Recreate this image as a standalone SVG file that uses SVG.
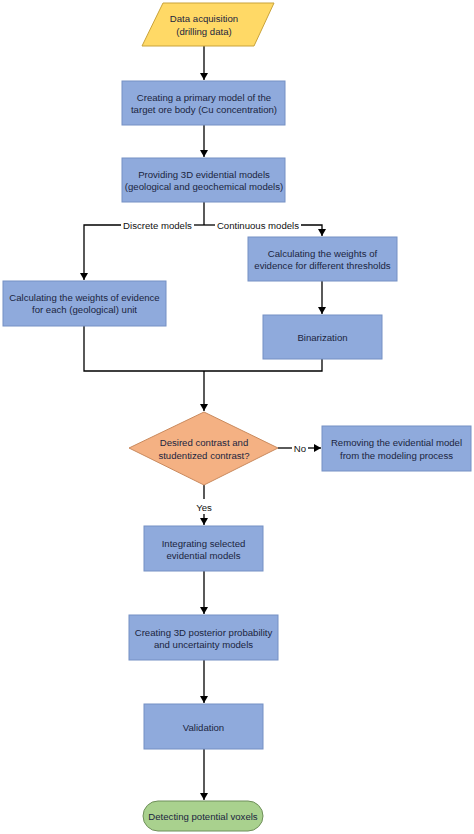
<svg xmlns="http://www.w3.org/2000/svg" width="474" height="834" viewBox="0 0 474 834">
<style>
.box{fill:#8FAADC;stroke:#7590C4;stroke-width:1}
.t{font-family:"Liberation Sans",Arial,sans-serif;font-size:9.6px;fill:#1B2540;text-anchor:middle;dominant-baseline:central}
.lbl{font-family:"Liberation Sans",Arial,sans-serif;font-size:9.6px;fill:#111;text-anchor:middle;dominant-baseline:central}
.ln{fill:none;stroke:#000;stroke-width:1.3}
</style>
<defs>
<marker id="ah" markerWidth="8" markerHeight="8" refX="7" refY="4" orient="auto" markerUnits="userSpaceOnUse">
<path d="M0,0 L7,4 L0,8 Z" fill="#000"/>
</marker>
</defs>
<rect width="474" height="834" fill="#fff"/>
<g id="connectors">
<path class="ln" d="M204,46 V80" marker-end="url(#ah)"/>
<path class="ln" d="M204,125 V157" marker-end="url(#ah)"/>
<path class="ln" d="M204,202 V225"/>
<path class="ln" d="M204,225 H194"/>
<path class="ln" d="M121,225 H84 V280" marker-end="url(#ah)"/>
<path class="ln" d="M204,225 H215"/>
<path class="ln" d="M301,225 H322 V236" marker-end="url(#ah)"/>
<path class="ln" d="M322,281 V314" marker-end="url(#ah)"/>
<path class="ln" d="M84,326 V371 H322 V359"/>
<path class="ln" d="M204,371 V411" marker-end="url(#ah)"/>
<path class="ln" d="M278,448 H292"/>
<path class="ln" d="M308,448 H321" marker-end="url(#ah)"/>
<path class="ln" d="M204,485 V499"/>
<path class="ln" d="M204,514 V525" marker-end="url(#ah)"/>
<path class="ln" d="M204,571 V614" marker-end="url(#ah)"/>
<path class="ln" d="M204,660 V703" marker-end="url(#ah)"/>
<path class="ln" d="M204,749 V800" marker-end="url(#ah)"/>
<text class="lbl" x="157.5" y="225">Discrete models</text>
<text class="lbl" x="258" y="225">Continuous models</text>
<text class="lbl" x="300" y="448">No</text>
<text class="lbl" x="204" y="507">Yes</text>
</g>
<g id="n1">
<polygon points="163,3 274,3 254,46 142,46" fill="#FFD966" stroke="#C9A33A" stroke-width="1"/>
<text class="t" x="204" y="18.5">Data acquisition</text>
<text class="t" x="204" y="31.5">(drilling data)</text>
</g>
<g id="n2">
<rect class="box" x="122" y="81" width="163" height="44"/>
<text class="t" x="204" y="97">Creating a primary model of the</text>
<text class="t" x="204" y="109.5">target ore body (Cu concentration)</text>
</g>
<g id="n3">
<rect class="box" x="122" y="158" width="163" height="44"/>
<text class="t" x="204" y="174">Providing 3D evidential models</text>
<text class="t" x="204" y="186.5">(geological and geochemical models)</text>
</g>
<g id="n4">
<rect class="box" x="3" y="281" width="163" height="45"/>
<text class="t" x="84.5" y="297.5">Calculating the weights of evidence</text>
<text class="t" x="84.5" y="309.5">for each (geological) unit</text>
</g>
<g id="n5">
<rect class="box" x="248" y="237" width="149" height="44"/>
<text class="t" x="322.5" y="253">Calculating the weights of</text>
<text class="t" x="322.5" y="265.5">evidence for different thresholds</text>
</g>
<g id="n6">
<rect class="box" x="263" y="315" width="119" height="44"/>
<text class="t" x="322.5" y="337">Binarization</text>
</g>
<g id="n7">
<polygon points="204,412 278,448 204,485 129,448" fill="#F4B183" stroke="#C98A5E" stroke-width="1"/>
<text class="t" x="204" y="442">Desired contrast and</text>
<text class="t" x="204" y="455">studentized contrast?</text>
</g>
<g id="n8">
<rect class="box" x="322" y="426" width="149" height="45"/>
<text class="t" x="396.5" y="442">Removing the evidential model</text>
<text class="t" x="396.5" y="455">from the modeling process</text>
</g>
<g id="n9">
<rect class="box" x="144" y="526" width="119" height="45"/>
<text class="t" x="203.5" y="543">Integrating selected</text>
<text class="t" x="203.5" y="555">evidential models</text>
</g>
<g id="n10">
<rect class="box" x="129" y="615" width="149" height="45"/>
<text class="t" x="203.5" y="632">Creating 3D posterior probability</text>
<text class="t" x="203.5" y="644">and uncertainty models</text>
</g>
<g id="n11">
<rect class="box" x="144" y="704" width="119" height="45"/>
<text class="t" x="203.5" y="727">Validation</text>
</g>
<g id="n12">
<rect x="143" y="801" width="120" height="30" rx="15" ry="15" fill="#A9D18E" stroke="#6F8F5A" stroke-width="1"/>
<text class="t" x="203" y="816.5">Detecting potential voxels</text>
</g>
</svg>
